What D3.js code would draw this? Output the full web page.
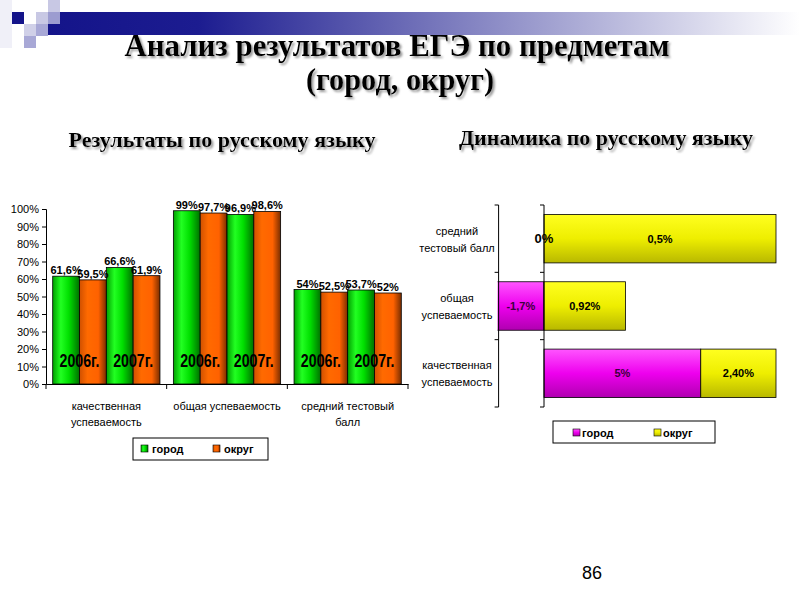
<!DOCTYPE html>
<html>
<head>
<meta charset="utf-8">
<script src="https://cdn.jsdelivr.net/npm/d3@7"></script>
<style>
  body { margin: 0; background: #fff; }
  svg { display: block; }
</style>
</head>
<body>
<svg id="slide" width="800" height="600"></svg>
<script>
// left chart: results by category, year and series
var categories = ["качественная успеваемость", "общая успеваемость", "средний тестовый балл"];
var years = ["2006г.", "2007г."];
var seriesNames = ["город", "округ"];
var gorod2006 = [61.6, 99, 54];
var okrug2006 = [59.5, 97.7, 52.5];
var gorod2007 = [66.6, 96.9, 53.7];
var okrug2007 = [61.9, 98.6, 52];
var yTicks = [0, 10, 20, 30, 40, 50, 60, 70, 80, 90, 100];

// right chart: dynamics (100% stacked horizontal bars)
var dynCategories = ["средний тестовый балл", "общая успеваемость", "качественная успеваемость"];
var dynGorod = [0, -1.7, 5];
var dynOkrug = [0.5, 0.92, 2.4];
var dynGorodLabels = ["0%", "-1,7%", "5%"];
var dynOkrugLabels = ["0,5%", "0,92%", "2,40%"];

var svg = d3.select("#slide");
var defs = svg.append("defs");

function gradient(id, stops, vertical) {
  var g = defs.append("linearGradient").attr("id", id)
    .attr("x1", 0).attr("y1", 0)
    .attr("x2", vertical ? 0 : 1).attr("y2", vertical ? 1 : 0);
  stops.forEach(function (s) {
    g.append("stop").attr("offset", s[0]).attr("stop-color", s[1]);
  });
}
gradient("gGreen", [[0, "#00a000"], [0.3, "#22ff22"], [0.6, "#00e000"], [1, "#007000"]]);
gradient("gOrange", [[0, "#d05000"], [0.3, "#ff6a00"], [0.7, "#ff6200"], [1, "#7a2e00"]]);
gradient("gMagenta", [[0, "#ff55ff"], [0.5, "#ee00ee"], [1, "#b000b0"]], true);
gradient("gYellow", [[0, "#ffff20"], [0.5, "#eeee00"], [1, "#b8b800"]], true);
gradient("gBand", [[0, "#14148a"], [0.2, "#1c1c90"], [0.55, "#8080c0"], [1, "#ffffff"]]);

defs.append("filter").attr("id", "shadow").attr("x", "-5%").attr("y", "-20%")
  .attr("width", "110%").attr("height", "150%")
  .append("feDropShadow").attr("dx", 2).attr("dy", 2).attr("stdDeviation", 0.8)
  .attr("flood-color", "#808080").attr("flood-opacity", 0.8);

// slide decoration
svg.append("rect").attr("x", 48).attr("y", 12).attr("width", 752).attr("height", 23)
  .attr("fill", "url(#gBand)");
var squares = [
  [0, 0, 12, 48, "#f0f0f8"], [48, 0, 12, 12, "#c8c8e4"], [12, 12, 12, 12, "#14148a"],
  [36, 12, 12, 12, "#c8c8e4"], [48, 12, 12, 12, "#9c9cd0"], [24, 24, 12, 12, "#d0d0e8"],
  [36, 24, 12, 12, "#a8a8d6"], [24, 36, 12, 12, "#a8a8d6"]
];
svg.selectAll("rect.sq").data(squares).enter().append("rect")
  .attr("class", "sq")
  .attr("x", function (d) { return d[0]; }).attr("y", function (d) { return d[1]; })
  .attr("width", function (d) { return d[2]; }).attr("height", function (d) { return d[3]; })
  .attr("fill", function (d) { return d[4]; });

// titles with a soft shadow
function shadowText(x, y, txt, size, len) {
  svg.append("text").attr("x", x).attr("y", y)
    .attr("text-anchor", "middle")
    .style("font-family", "'Liberation Serif', 'Times New Roman', serif")
    .style("font-weight", "bold").style("font-size", size + "px")
    .attr("filter", "url(#shadow)")
    .attr("textLength", len).attr("lengthAdjust", "spacingAndGlyphs")
    .text(txt);
}
shadowText(397, 56, "Анализ результатов ЕГЭ по предметам", 32, 545);
shadowText(400, 90, "(город, округ)", 32, 188);
shadowText(222, 147, "Результаты по русскому языку", 20, 307);
shadowText(606, 145, "Динамика по русскому языку", 20, 294);

svg.append("text").attr("x", 592).attr("y", 579).attr("text-anchor", "middle")
  .style("font-family", "'Liberation Sans', Arial, sans-serif").style("font-size", "18px")
  .text("86");

var sans = "'Liberation Sans', Arial, sans-serif";
var fmt = function (v) { return String(v).replace(".", ",") + "%"; };

// ---------- left chart ----------
var left = svg.append("g");
var x0 = d3.scaleBand().domain(categories).range([46, 408]);
var x1 = d3.scaleBand().domain(years).range([0, x0.bandwidth()]).paddingOuter(0.125);
var x2 = d3.scaleBand().domain(seriesNames).range([0, x1.bandwidth()]);
var y = d3.scaleLinear().domain([0, 100]).range([384, 209]);

var yAxis = left.append("g").attr("transform", "translate(46,0)")
  .call(d3.axisLeft(y).tickValues(yTicks).tickSize(4).tickPadding(3)
    .tickFormat(function (d) { return d + "%"; }));
yAxis.select(".domain").attr("stroke", "#000");
yAxis.selectAll("text").style("font-family", sans).style("font-size", "11px");

var xAxis = left.append("g").attr("transform", "translate(0,384)")
  .call(d3.axisBottom(x0).tickSize(0).tickFormat(""));
xAxis.select(".domain").attr("stroke", "#000");
left.selectAll("line.cTick").data([0, 1, 2, 3]).enter().append("line")
  .attr("class", "cTick")
  .attr("x1", function (i) { return x0.range()[0] + i * x0.step(); })
  .attr("x2", function (i) { return x0.range()[0] + i * x0.step(); })
  .attr("y1", 384).attr("y2", 389).attr("stroke", "#000");

var rows = [];
categories.forEach(function (c, i) {
  rows.push({ cat: c, year: years[0], s: seriesNames[0], v: gorod2006[i] });
  rows.push({ cat: c, year: years[0], s: seriesNames[1], v: okrug2006[i] });
  rows.push({ cat: c, year: years[1], s: seriesNames[0], v: gorod2007[i] });
  rows.push({ cat: c, year: years[1], s: seriesNames[1], v: okrug2007[i] });
});
var bx = function (d) { return x0(d.cat) + x1(d.year) + x2(d.s); };

left.selectAll("rect.bar").data(rows).enter().append("rect")
  .attr("class", "bar")
  .attr("x", bx).attr("y", function (d) { return y(d.v); })
  .attr("width", x2.bandwidth()).attr("height", function (d) { return y(0) - y(d.v); })
  .attr("fill", function (d) { return d.s === "город" ? "url(#gGreen)" : "url(#gOrange)"; })
  .attr("stroke", "#000").attr("stroke-width", 0.8);

left.selectAll("text.val").data(rows).enter().append("text")
  .attr("class", "val")
  .attr("x", function (d) { return bx(d) + x2.bandwidth() / 2; })
  .attr("y", function (d) { return y(d.v) - 2; })
  .attr("text-anchor", "middle")
  .style("font-family", sans).style("font-weight", "bold").style("font-size", "11px")
  .text(function (d) { return fmt(d.v); });

var yearLabels = [];
categories.forEach(function (c) { years.forEach(function (yr) { yearLabels.push({ cat: c, year: yr }); }); });
left.selectAll("text.yr").data(yearLabels).enter().append("text")
  .attr("class", "yr")
  .attr("x", function (d) { return x0(d.cat) + x1(d.year) + x1.bandwidth() / 2; })
  .attr("y", 367).attr("text-anchor", "middle")
  .style("font-family", sans)
  .style("font-weight", "bold").style("font-size", "18px")
  .attr("textLength", 40).attr("lengthAdjust", "spacingAndGlyphs")
  .text(function (d) { return d.year; });

var catLines = { "качественная успеваемость": ["качественная", "успеваемость"],
  "общая успеваемость": ["общая успеваемость"],
  "средний тестовый балл": ["средний тестовый", "балл"] };
categories.forEach(function (c) {
  catLines[c].forEach(function (ln, k) {
    left.append("text").attr("x", x0(c) + x0.bandwidth() / 2).attr("y", 410 + k * 16)
      .attr("text-anchor", "middle").style("font-family", sans).style("font-size", "11px")
      .text(ln);
  });
});

// left legend
var lg = left.append("g").attr("transform", "translate(133,438)");
lg.append("rect").attr("width", 135).attr("height", 22).attr("fill", "#fff").attr("stroke", "#000");
[["город", "url(#gGreen)", 8], ["округ", "url(#gOrange)", 80]].forEach(function (d) {
  lg.append("rect").attr("x", d[2]).attr("y", 7).attr("width", 7).attr("height", 7)
    .attr("fill", d[1]).attr("stroke", "#000").attr("stroke-width", 0.6);
  lg.append("text").attr("x", d[2] + 11).attr("y", 15)
    .style("font-family", sans).style("font-weight", "bold").style("font-size", "11px").text(d[0]);
});

// ---------- right chart ----------
var right = svg.append("g");
var xr = d3.scaleLinear().domain([-0.2, 1]).range([497.6, 776]);
var yr = d3.scaleBand().domain(dynCategories).range([205, 407]).paddingInner(0.28).paddingOuter(0.14);

defs.append("clipPath").attr("id", "plotClip").append("rect")
  .attr("x", xr(-0.2)).attr("y", 200).attr("width", xr(1) - xr(-0.2) + 1).attr("height", 210);

var stacks = dynCategories.map(function (c, i) {
  var total = Math.abs(dynGorod[i]) + Math.abs(dynOkrug[i]);
  var g = dynGorod[i] / total, o = dynOkrug[i] / total;
  var pos = 0, neg = 0, segs = [];
  [[g, "url(#gMagenta)", dynGorodLabels[i]], [o, "url(#gYellow)", dynOkrugLabels[i]]].forEach(function (s) {
    var a, b;
    if (s[0] >= 0) { a = pos; b = pos + s[0]; pos = b; } else { b = neg; a = neg + s[0]; neg = a; }
    segs.push({ cat: c, a: a, b: b, fill: s[1], label: s[2] });
  });
  return segs;
});
var segs = [].concat.apply([], stacks);

right.append("g").attr("clip-path", "url(#plotClip)")
  .selectAll("rect").data(segs.filter(function (d) { return d.b > d.a; })).enter().append("rect")
  .attr("x", function (d) { return xr(d.a); })
  .attr("width", function (d) { return xr(d.b) - xr(d.a); })
  .attr("y", function (d) { return yr(d.cat); }).attr("height", yr.bandwidth())
  .attr("fill", function (d) { return d.fill; })
  .attr("stroke", "#000").attr("stroke-width", 0.8);

right.selectAll("text.dv").data(segs).enter().append("text")
  .attr("class", "dv")
  .attr("x", function (d) { return (xr(Math.max(d.a, -0.2)) + xr(d.b)) / 2; })
  .attr("y", function (d) { return yr(d.cat) + yr.bandwidth() / 2 + 4; })
  .attr("text-anchor", "middle")
  .style("font-family", sans).style("font-weight", "bold")
  .style("font-size", function (d) { return d.a === d.b ? "13px" : "11px"; })
  .attr("fill", function (d) { return d.fill === "url(#gMagenta)" && d.a !== d.b ? "#3a003a" : "#000"; })
  .text(function (d) { return d.label; });

// two vertical axes: plot edge and zero line, both with ticks at band edges
var edges = [205].concat(dynCategories.map(function (c) { return yr(c) - yr.step() * yr.paddingInner() / 2 + yr.step(); }));
edges[edges.length - 1] = 407;
[xr(-0.2) + 1, xr(0)].forEach(function (ax) {
  right.append("line").attr("x1", ax).attr("x2", ax).attr("y1", 205).attr("y2", 407).attr("stroke", "#000");
  right.selectAll(null).data(edges).enter().append("line")
    .attr("x1", ax - 4).attr("x2", ax).attr("y1", function (d) { return d; }).attr("y2", function (d) { return d; })
    .attr("stroke", "#000");
});

var dynLines = { "средний тестовый балл": ["средний", "тестовый балл"],
  "общая успеваемость": ["общая", "успеваемость"],
  "качественная успеваемость": ["качественная", "успеваемость"] };
dynCategories.forEach(function (c) {
  var cy = yr(c) + yr.bandwidth() / 2;
  dynLines[c].forEach(function (ln, k) {
    right.append("text").attr("x", 457).attr("y", cy - 4 + k * 17)
      .attr("text-anchor", "middle").style("font-family", sans).style("font-size", "11px")
      .text(ln);
  });
});

// right legend
var rg = right.append("g").attr("transform", "translate(553,421)");
rg.append("rect").attr("width", 162).attr("height", 22).attr("fill", "#fff").attr("stroke", "#000");
[["город", "url(#gMagenta)", 20], ["округ", "url(#gYellow)", 101]].forEach(function (d) {
  rg.append("rect").attr("x", d[2]).attr("y", 8).attr("width", 7).attr("height", 7)
    .attr("fill", d[1]).attr("stroke", "#000").attr("stroke-width", 0.6);
  rg.append("text").attr("x", d[2] + 9).attr("y", 16)
    .style("font-family", sans).style("font-weight", "bold").style("font-size", "11px").text(d[0]);
});
</script>
</body>
</html>
